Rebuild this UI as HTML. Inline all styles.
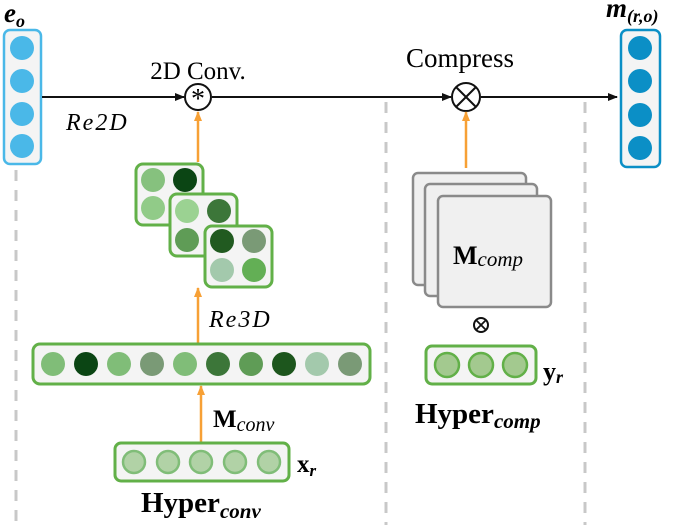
<!DOCTYPE html>
<html><head><meta charset="utf-8"><style>
body{margin:0;background:#fff;}
svg text{font-family:"Liberation Serif",serif;}
</style></head><body>
<svg width="685" height="525" viewBox="0 0 685 525" xmlns="http://www.w3.org/2000/svg">
<defs>
<marker id="ab" markerWidth="10" markerHeight="10" refX="9" refY="5" orient="auto" markerUnits="userSpaceOnUse"><path d="M0,1 L10,5 L0,9 Z" fill="#111"/></marker>
<marker id="ao" markerWidth="10" markerHeight="10" refX="9" refY="5" orient="auto" markerUnits="userSpaceOnUse"><path d="M0,1 L10,5 L0,9 Z" fill="#f7a035"/></marker>
</defs>
<g stroke="#c8c8c8" stroke-width="3" stroke-dasharray="11,9">
<line x1="16" y1="170" x2="16" y2="525"/>
<line x1="386" y1="102" x2="386" y2="525"/>
<line x1="585" y1="102" x2="585" y2="525"/>
</g>
<rect x="4" y="30" width="37" height="134" rx="6" fill="#f4f4f4" stroke="#4ab8e8" stroke-width="2.5"/>
<g fill="#4ab8e8"><circle cx="22" cy="48" r="12"/><circle cx="22" cy="81" r="12"/><circle cx="22" cy="114" r="12"/><circle cx="22" cy="146" r="12"/></g>
<text x="4" y="22" font-size="27" font-weight="bold" font-style="italic">e<tspan font-size="18" dy="5">o</tspan></text>
<line x1="42" y1="97" x2="184" y2="97" stroke="#111" stroke-width="2" marker-end="url(#ab)"/>
<line x1="212" y1="97" x2="451" y2="97" stroke="#111" stroke-width="2" marker-end="url(#ab)"/>
<line x1="481" y1="97" x2="617" y2="97" stroke="#111" stroke-width="2" marker-end="url(#ab)"/>
<circle cx="198" cy="97" r="13" fill="#fff" stroke="#111" stroke-width="2"/>
<text x="198" y="108" font-size="28" text-anchor="middle">*</text>
<circle cx="466" cy="97" r="14" fill="#fff" stroke="#111" stroke-width="2"/>
<line x1="456" y1="87" x2="476" y2="107" stroke="#111" stroke-width="2"/><line x1="476" y1="87" x2="456" y2="107" stroke="#111" stroke-width="2"/>
<text x="198" y="79" font-size="25" text-anchor="middle">2D Conv.</text>
<text x="460" y="67" font-size="27" text-anchor="middle">Compress</text>
<text x="66" y="130" font-size="24" font-style="italic" letter-spacing="2">Re2D</text>
<rect x="621" y="30" width="39" height="137" rx="6" fill="#f4f4f4" stroke="#0b8fc6" stroke-width="2.5"/>
<g fill="#0b8fc6"><circle cx="640" cy="48" r="12"/><circle cx="640" cy="81" r="12"/><circle cx="640" cy="115" r="12"/><circle cx="640" cy="148" r="12"/></g>
<text x="606" y="17" font-size="27" font-weight="bold" font-style="italic">m<tspan font-size="18" dy="5">(r,o)</tspan></text>
<line x1="198" y1="162" x2="198" y2="112" stroke="#f7a035" stroke-width="2.5" marker-end="url(#ao)"/>
<line x1="198" y1="343" x2="198" y2="288" stroke="#f7a035" stroke-width="2.5" marker-end="url(#ao)"/>
<line x1="201" y1="442" x2="201" y2="386" stroke="#f7a035" stroke-width="2.5" marker-end="url(#ao)"/>
<line x1="466" y1="168" x2="466" y2="112" stroke="#f7a035" stroke-width="2.5" marker-end="url(#ao)"/>
<rect x="136" y="164" width="67" height="61" rx="7" fill="#f4f4f4" stroke="#62b048" stroke-width="3"/>
<circle cx="153" cy="180" r="12" fill="#86c17e"/><circle cx="185" cy="180" r="12" fill="#0b4514"/><circle cx="153" cy="208" r="12" fill="#91cb88"/>
<rect x="170" y="194" width="67" height="62" rx="7" fill="#f4f4f4" stroke="#62b048" stroke-width="3"/>
<circle cx="187" cy="211" r="12" fill="#9bd292"/><circle cx="219" cy="211" r="12" fill="#3c7639"/><circle cx="187" cy="240" r="12" fill="#5f9c56"/>
<rect x="205" y="226" width="67" height="61" rx="7" fill="#f4f4f4" stroke="#62b048" stroke-width="3"/>
<circle cx="222" cy="241" r="12" fill="#215a20"/><circle cx="254" cy="241" r="12" fill="#7a9a76"/><circle cx="222" cy="270" r="12" fill="#a3c9ac"/><circle cx="254" cy="270" r="12" fill="#63af55"/>
<text x="209" y="327" font-size="24" font-style="italic" letter-spacing="2">Re3D</text>
<rect x="33" y="344" width="337" height="40" rx="7" fill="#f4f4f4" stroke="#62b048" stroke-width="3"/>
<g><circle cx="53" cy="364" r="12" fill="#80bd78"/><circle cx="86" cy="364" r="12" fill="#0b4514"/><circle cx="119" cy="364" r="12" fill="#80bd78"/><circle cx="152" cy="364" r="12" fill="#7a9a76"/><circle cx="185" cy="364" r="12" fill="#80bd78"/><circle cx="218" cy="364" r="12" fill="#3c7639"/><circle cx="251" cy="364" r="12" fill="#5f9c56"/><circle cx="284" cy="364" r="12" fill="#1d561d"/><circle cx="317" cy="364" r="12" fill="#a3c9ac"/><circle cx="350" cy="364" r="12" fill="#7a9a76"/></g>
<text x="213" y="427" font-size="25"><tspan font-weight="bold">M</tspan><tspan font-style="italic" font-size="20" dy="4">conv</tspan></text>
<rect x="115" y="443" width="174" height="38" rx="6" fill="#f4f4f4" stroke="#62b048" stroke-width="3"/>
<g fill="#b1d2a6" stroke="#80bd78" stroke-width="2.5"><circle cx="134" cy="462" r="11"/><circle cx="168" cy="462" r="11"/><circle cx="201" cy="462" r="11"/><circle cx="235" cy="462" r="11"/><circle cx="269" cy="462" r="11"/></g>
<text x="297" y="472" font-size="25" font-weight="bold">x<tspan font-style="italic" font-size="17" dy="4">r</tspan></text>
<text x="141" y="512" font-size="29" font-weight="bold">Hyper<tspan font-style="italic" font-size="21" dy="6">conv</tspan></text>
<rect x="413" y="173" width="113" height="112" rx="5" fill="#f0f0f0" stroke="#8a8a8a" stroke-width="2.5"/>
<rect x="425" y="184" width="112" height="112" rx="5" fill="#f0f0f0" stroke="#8a8a8a" stroke-width="2.5"/>
<rect x="438" y="196" width="113" height="111" rx="5" fill="#f0f0f0" stroke="#8a8a8a" stroke-width="2.5"/>
<text x="453" y="264" font-size="26"><tspan font-weight="bold">M</tspan><tspan font-style="italic" font-size="21" dy="2">comp</tspan></text>
<circle cx="481" cy="325" r="7" fill="#fff" stroke="#111" stroke-width="2"/>
<line x1="476" y1="320" x2="486" y2="330" stroke="#111" stroke-width="1.8"/><line x1="486" y1="320" x2="476" y2="330" stroke="#111" stroke-width="1.8"/>
<rect x="426" y="346" width="110" height="38" rx="6" fill="#f4f4f4" stroke="#62b048" stroke-width="3"/>
<g fill="#a3c98f" stroke="#62b048" stroke-width="2.5"><circle cx="447" cy="365" r="12"/><circle cx="481" cy="365" r="12"/><circle cx="515" cy="365" r="12"/></g>
<text x="543" y="380" font-size="26" font-weight="bold">y<tspan font-style="italic" font-size="18" dy="3">r</tspan></text>
<text x="415" y="423" font-size="29" font-weight="bold">Hyper<tspan font-style="italic" font-size="21" dy="5">comp</tspan></text>
</svg>
</body></html>
